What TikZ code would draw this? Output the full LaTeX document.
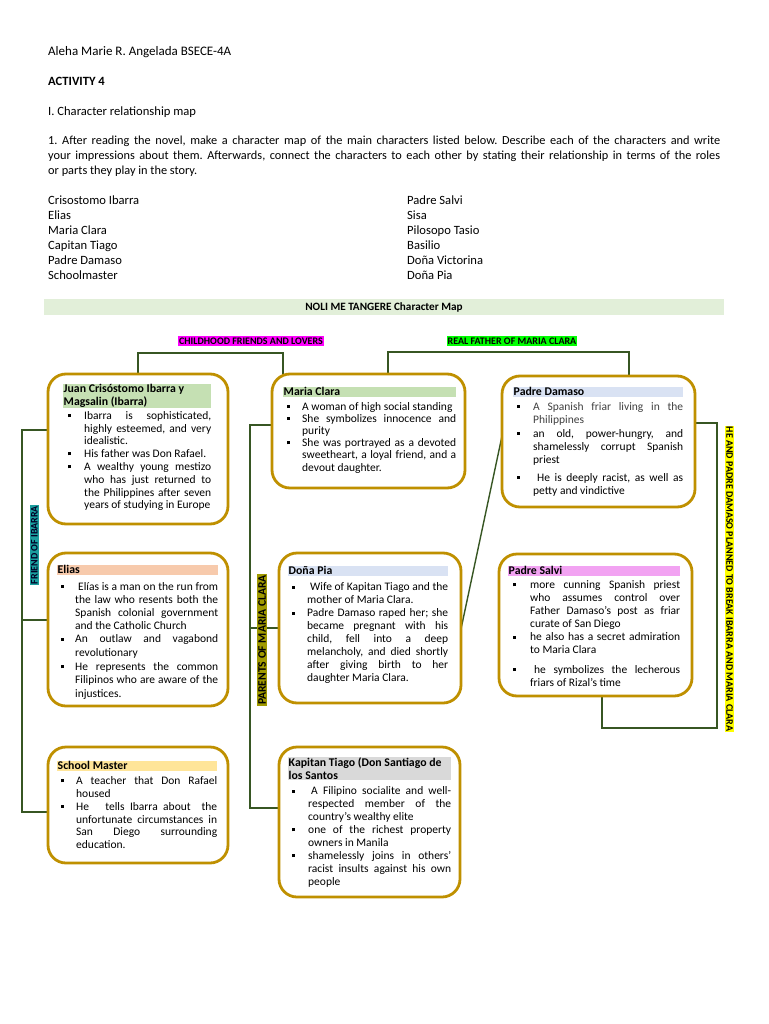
\documentclass[tikz,border=0pt]{standalone}
\usepackage{fontspec}
\setmainfont{Carlito}
\usetikzlibrary{calc}
\definecolor{gold}{HTML}{BF9000}
\definecolor{lg}{HTML}{375623}
\definecolor{bargreen}{HTML}{E2EFD9}
\definecolor{tagmag}{HTML}{FF00FF}
\definecolor{taggreen}{HTML}{00FF00}
\definecolor{tagyellow}{HTML}{FFFF00}
\definecolor{tagteal}{HTML}{1B9E9E}
\definecolor{tagolive}{HTML}{A09A00}
\definecolor{hgreen}{HTML}{C5E0B3}
\definecolor{hblue}{HTML}{D9E2F3}
\definecolor{hpeach}{HTML}{F7CAAC}
\definecolor{hpink}{HTML}{F2A3F2}
\definecolor{hyellow}{HTML}{FFE599}
\definecolor{hgrey}{HTML}{D9D9D9}
\setlength\fboxsep{0.5pt}
\frenchspacing
\newlength\bpos
\newlength\bhang
\newcommand\bodyfont[1]{\fontsize{11.5}{#1}\selectfont}
\newcommand\hdr[4]{\noindent\colorbox{#1}{\parbox{\dimexpr#2-2\fboxsep\relax}{\fontsize{11.8}{12.9}\selectfont\bfseries #3}}\par\vspace{#4}}
\newcommand\bitem[1]{\par\noindent\hangindent=\bhang\hangafter=1\makebox[\bhang][l]{\hspace{\bpos}\rule[2.3pt]{3pt}{3pt}}#1}
\tikzset{
  cbox/.style={draw=gold, line width=2.8pt, rounded corners=18pt, fill=white, inner sep=0pt},
  ctext/.style={anchor=north west, inner sep=0pt, align=justify},
  conn/.style={draw=lg, line width=1.8pt},
  tag/.style={font=\fontsize{10}{10}\selectfont\bfseries, inner sep=1.2pt},
  plain/.style={anchor=base west, inner sep=0pt, font=\fontsize{12.6}{14}\selectfont}
}
\begin{document}
\begin{tikzpicture}[x=1pt, y=-1pt]
\useasboundingbox[fill=white] (0,0) rectangle (768,1024);

% header texts
\node[plain, font=\fontsize{13}{14}\selectfont] (name) at (48,56) {Aleha Marie R. Angelada BSECE-4A};
\node[plain, font=\fontsize{12.6}{14}\selectfont\bfseries] (act) at (48,86) {ACTIVITY 4};
\node[plain] (sec) at (48,116) {I. Character relationship map};
\node[anchor=north west, inner sep=0pt, text width=672pt, align=justify, font=\fontsize{12.3}{14.7}\selectfont] (para) at (48,136)
 {1. After reading the novel, make a character map of the main characters listed below. Describe each of the characters and write\linebreak your impressions about them. Afterwards, connect the characters to each other by stating their relationship in terms of the roles\linebreak or parts they play in the story.};
\node[anchor=north west, inner sep=0pt, align=left, font=\fontsize{12.6}{15}\selectfont] (listL) at (48,196)
 {Crisostomo Ibarra\\Elias\\Maria Clara\\Capitan Tiago\\Padre Damaso\\Schoolmaster};
\node[anchor=north west, inner sep=0pt, align=left, font=\fontsize{12.6}{15}\selectfont] (listR) at (407,196)
 {Padre Salvi\\Sisa\\Pilosopo Tasio\\Basilio\\Doña Victorina\\Doña Pia};

\node[fill=bargreen, minimum width=680pt, minimum height=16pt, inner sep=0pt, font=\fontsize{11.2}{12}\selectfont\bfseries] (bar) at (384,307) {NOLI ME TANGERE Character Map};

\node[tag, fill=tagmag] (tagLovers) at (251,341) {CHILDHOOD FRIENDS AND LOVERS};
\node[tag, fill=taggreen] (tagFather) at (512,341) {REAL FATHER OF MARIA CLARA};

% positions
\coordinate (cLov) at (200,353);
\coordinate (cFat) at (500,352);
\coordinate (fTop) at (22,430);
\coordinate (fBot) at (22,812);
\coordinate (pTop) at (250,425);
\coordinate (pBot) at (250,808);
\coordinate (sR) at (717,728);

\path (138,449) node[minimum width=180pt, minimum height=150pt, inner sep=0pt] (ibarraP) {};
\path (368.5,431) node[minimum width=193pt, minimum height=114pt, inner sep=0pt] (mariaP) {};
\path (598.5,441.5) node[minimum width=193pt, minimum height=131pt, inner sep=0pt] (damasoP) {};
\path (138,629.5) node[minimum width=180pt, minimum height=153pt, inner sep=0pt] (eliasP) {};
\path (370,628) node[minimum width=182pt, minimum height=150pt, inner sep=0pt] (piaP) {};
\path (595.5,625) node[minimum width=193pt, minimum height=142pt, inner sep=0pt] (salviP) {};
\path (138,805) node[minimum width=180pt, minimum height=116pt, inner sep=0pt] (smP) {};
\path (369.5,822) node[minimum width=181pt, minimum height=150pt, inner sep=0pt] (tiagoP) {};

% connectors
\draw[conn] (ibarraP.north) |- (cLov) -| ([xshift=-85.5pt]mariaP.north);
\draw[conn] ([xshift=19.5pt]mariaP.north) |- (cFat) -| ([xshift=30.5pt]damasoP.north);
\draw[conn] ([yshift=19pt]ibarraP.west) -- (fTop) -- (fBot) -- ([yshift=-7pt]smP.west);
\coordinate (eW) at ([yshift=9.5pt]eliasP.west);
\draw[conn] (eW) -- (eW -| fTop);
\draw[conn] ([yshift=6pt]mariaP.west) -- (pTop) -- (pBot) -- ([yshift=14pt]tiagoP.west);
\draw[conn] (piaP.west) -- (piaP.west -| pTop);
\draw[conn, line width=1.4pt] ([yshift=4.5pt]damasoP.west) -- (piaP.east);
\draw[conn] ([yshift=18.5pt]damasoP.east) -| (sR) -| ([xshift=6.5pt]salviP.south);

% box frames
\node[cbox, minimum width=180pt, minimum height=150pt] (ibarra) at (ibarraP) {};
\node[cbox, minimum width=193pt, minimum height=114pt] (maria) at (mariaP) {};
\node[cbox, minimum width=193pt, minimum height=131pt] (damaso) at (damasoP) {};
\node[cbox, minimum width=180pt, minimum height=153pt] (elias) at (eliasP) {};
\node[cbox, minimum width=182pt, minimum height=150pt] (pia) at (piaP) {};
\node[cbox, minimum width=193pt, minimum height=142pt] (salvi) at (salviP) {};
\node[cbox, minimum width=180pt, minimum height=116pt] (sm) at (smP) {};
\node[cbox, minimum width=181pt, minimum height=150pt] (tiago) at (tiagoP) {};

% box contents
\node[ctext, text width=148pt] (ibarraT) at (63,384) {\bodyfont{12.8}%
\setlength\bpos{5pt}\setlength\bhang{21pt}%
\hdr{hgreen}{148pt}{Juan Crisóstomo Ibarra y\\Magsalin (Ibarra)}{2pt}%
\bitem{Ibarra is sophisticated,\linebreak highly esteemed, and very\linebreak idealistic.}
\bitem{His father was Don Rafael.}
\bitem{A wealthy young mestizo\linebreak who has just returned to\linebreak the Philippines after seven\linebreak years of studying in Europe}\par};

\node[ctext, text width=173pt] (mariaT) at (283,387) {\bodyfont{12.2}%
\setlength\bpos{4pt}\setlength\bhang{19pt}%
\hdr{hgreen}{173pt}{Maria Clara}{3pt}%
\bitem{A woman of high social standing}
\bitem{She symbolizes innocence and\linebreak purity}
\bitem{She was portrayed as a devoted\linebreak sweetheart, a loyal friend, and a\linebreak devout daughter.}\par};

\node[ctext, text width=170pt] (damasoT) at (513,387) {\bodyfont{13.4}%
\setlength\bpos{4pt}\setlength\bhang{20pt}%
\hdr{hblue}{170pt}{Padre Damaso}{2pt}%
\bitem{{\color{black!75}A Spanish friar living in the\linebreak Philippines}}
\bitem{an old, power-hungry, and\linebreak shamelessly corrupt Spanish\linebreak priest}\par\vspace{4pt}
\bitem{\hspace{4pt}He is deeply racist, as well as\linebreak petty and vindictive}\par};

\node[ctext, text width=161pt] (eliasT) at (57,565) {\bodyfont{13.2}%
\setlength\bpos{4pt}\setlength\bhang{18pt}%
\hdr{hpeach}{161pt}{Elias}{4pt}%
\bitem{\hspace{3pt}Elías is a man on the run from\linebreak the law who resents both the\linebreak Spanish colonial government\linebreak and the Catholic Church}
\bitem{An outlaw and vagabond\linebreak revolutionary}\par\vspace{1.5pt}
\bitem{He represents the common\linebreak Filipinos who are aware of the\linebreak injustices.}\par};

\node[ctext, text width=160pt] (piaT) at (288,566) {\bodyfont{13}%
\setlength\bpos{4pt}\setlength\bhang{19pt}%
\hdr{hblue}{160pt}{Doña Pia}{4pt}%
\bitem{\hspace{3pt}Wife of Kapitan Tiago and the\linebreak mother of Maria Clara.}
\bitem{Padre Damaso raped her; she\linebreak became pregnant with his\linebreak child, fell into a deep\linebreak melancholy, and died shortly\linebreak after giving birth to her\linebreak daughter Maria Clara.}\par};

\node[ctext, text width=172pt] (salviT) at (508,566) {\bodyfont{12.8}%
\setlength\bpos{5pt}\setlength\bhang{22pt}%
\hdr{hpink}{172pt}{Padre Salvi}{2pt}%
\bitem{more cunning Spanish priest\linebreak who assumes control over\linebreak Father Damaso’s post as friar\linebreak curate of San Diego}\par\vspace{1pt}
\bitem{he also has a secret admiration\linebreak to Maria Clara}\par\vspace{7pt}
\bitem{\hspace{4pt}he symbolizes the lecherous\linebreak friars of Rizal’s time}\par};

\node[ctext, text width=160pt] (smT) at (57,761) {\bodyfont{12.8}%
\setlength\bpos{4pt}\setlength\bhang{19pt}%
\hdr{hyellow}{160pt}{School Master}{3pt}%
\bitem{A teacher that Don Rafael\linebreak housed}
\bitem{He \ \ tells Ibarra about \ the\linebreak unfortunate circumstances in\linebreak San Diego surrounding\linebreak education.}\par};

\node[ctext, text width=163pt] (tiagoT) at (288,757) {\bodyfont{12.9}%
\setlength\bpos{4pt}\setlength\bhang{20pt}%
\hdr{hgrey}{163pt}{Kapitan Tiago (Don Santiago de\\los Santos}{6pt}%
\bitem{\hspace{3pt}A Filipino socialite and well-\linebreak respected member of the\linebreak country’s wealthy elite}
\bitem{one of the richest property\linebreak owners in Manila}
\bitem{shamelessly joins in others’\linebreak racist insults against his own\linebreak people}\par};

% vertical relationship labels
\node[tag, fill=tagteal, rotate=90, text=black!85!blue] (tagFriend) at (34.5,545) {FRIEND OF IBARRA};
\node[tag, fill=tagolive, rotate=90, font=\fontsize{11.6}{12}\selectfont\bfseries, inner sep=0.8pt] (tagParents) at (262,640) {PARENTS OF MARIA CLARA};
\node[tag, fill=tagyellow, rotate=-90, inner sep=1pt] (tagPlan) at (729.5,579) {HE AND PADRE DAMASO PLANNED TO BREAK IBARRA AND MARIA CLARA};
\end{tikzpicture}
\end{document}
